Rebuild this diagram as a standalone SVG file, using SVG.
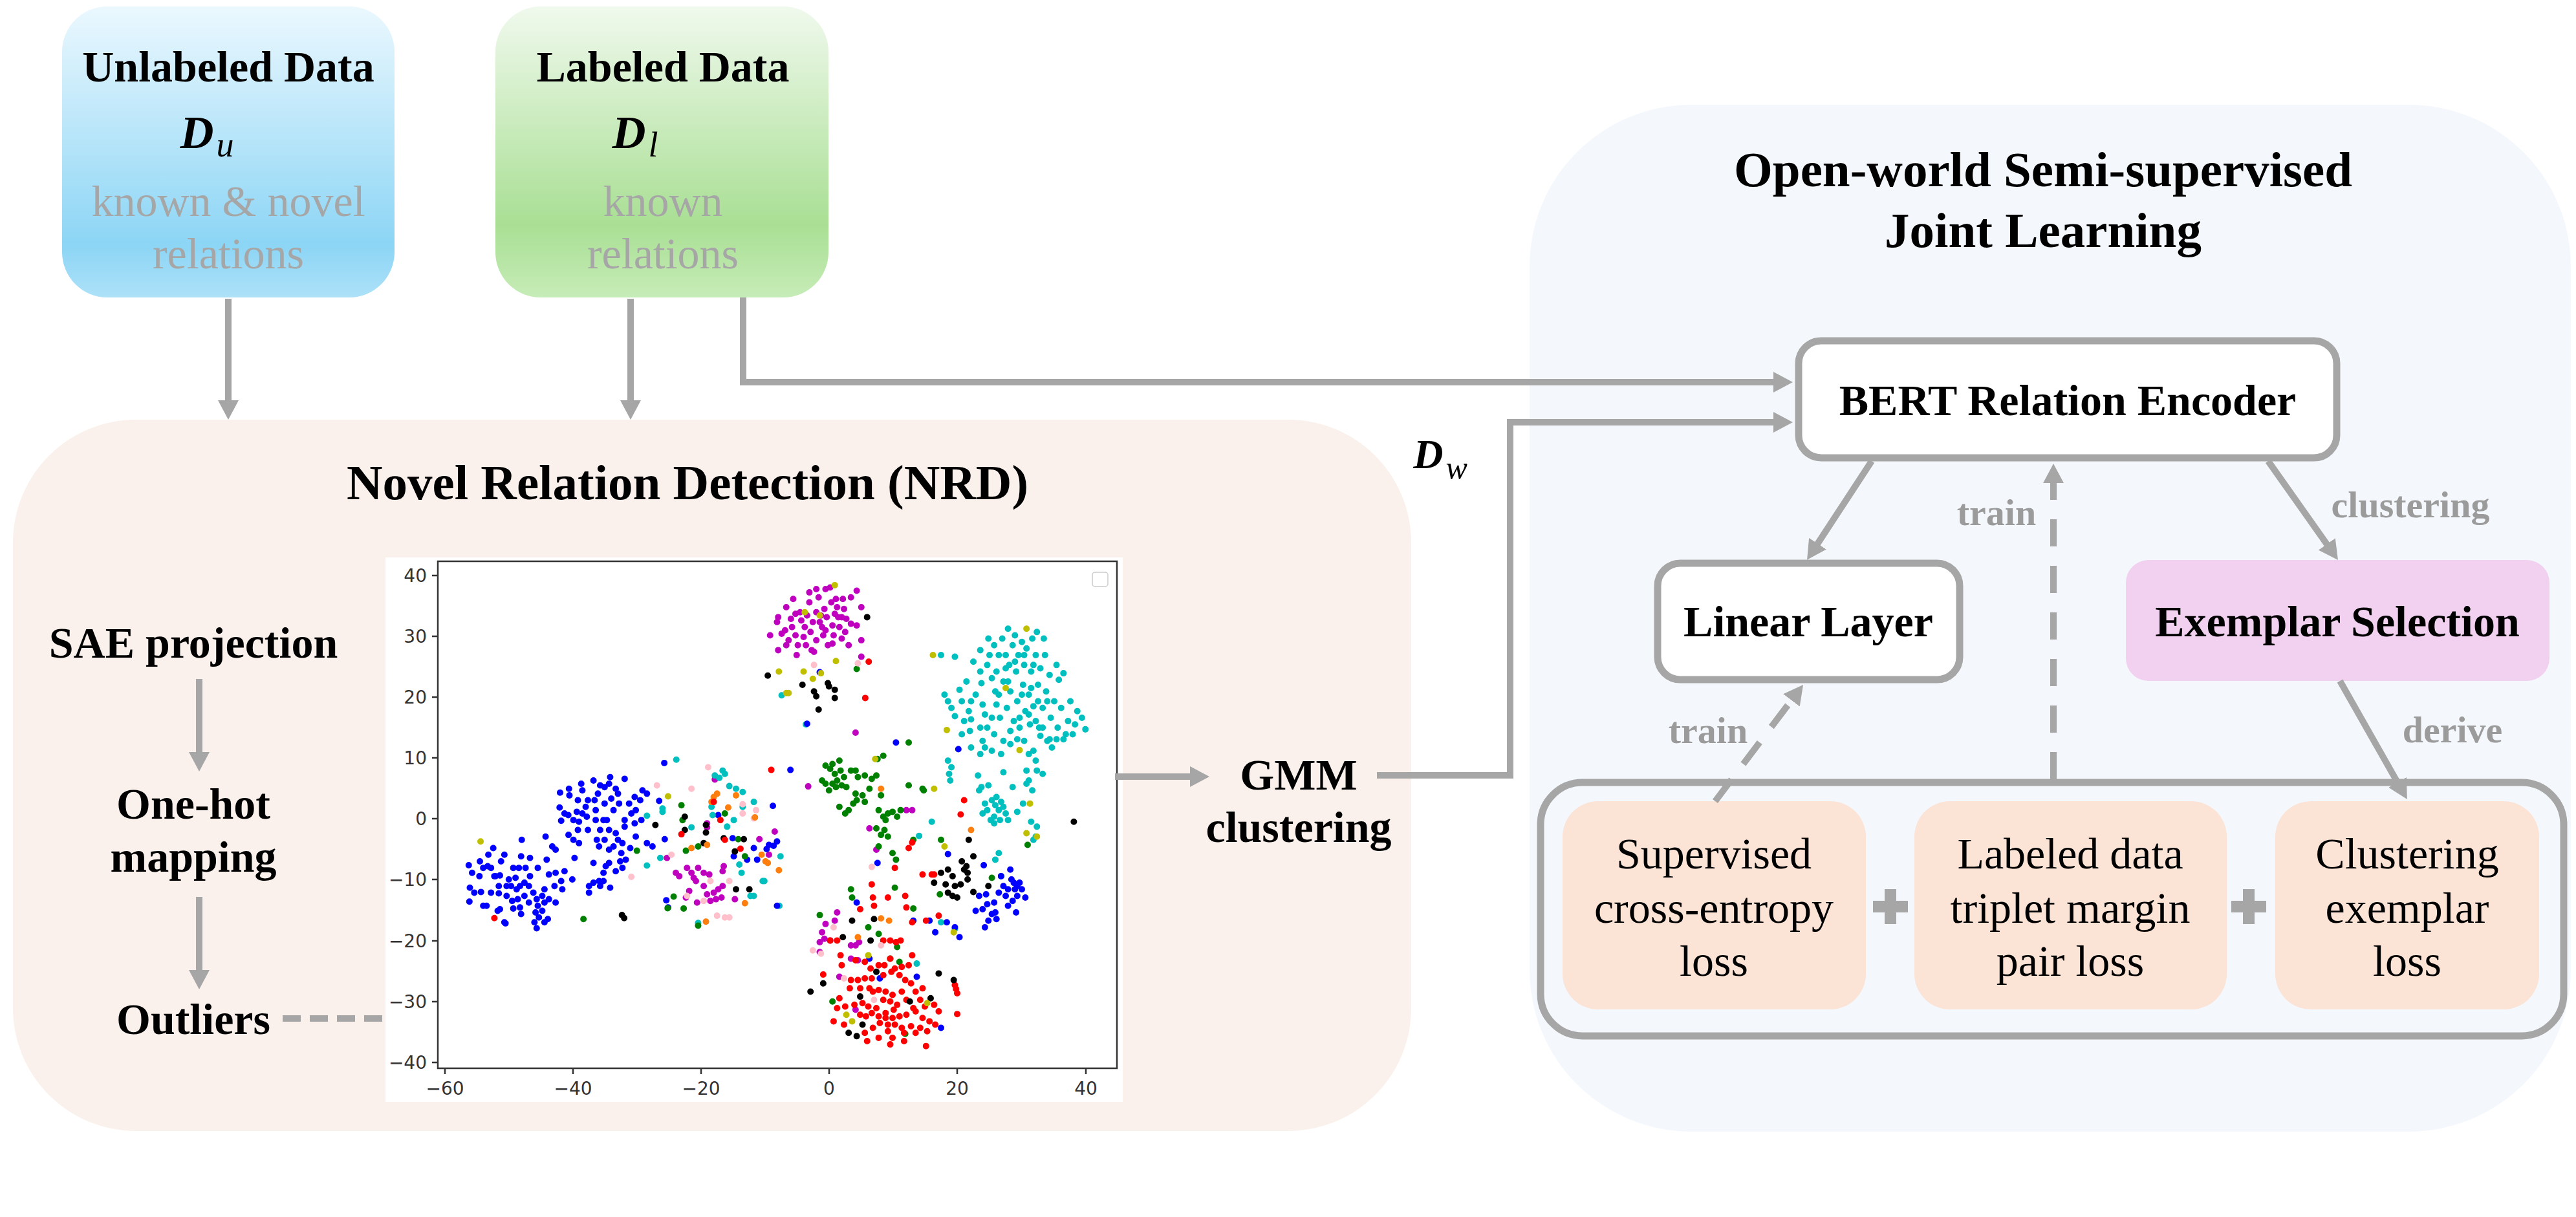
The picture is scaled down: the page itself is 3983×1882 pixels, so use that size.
<svg xmlns="http://www.w3.org/2000/svg" width="3983" height="1882" viewBox="0 0 3983 1882">
<defs>
<style>
.t{font-family:"Liberation Serif","Times New Roman",serif;font-size:68px;text-anchor:middle;fill:#000}
.b{font-weight:bold}
.g{fill:#a6a6a6}
.lbl{font-weight:bold;fill:#9b9b9b;font-size:58px}
.title{font-size:77px;font-weight:bold}
.ln{stroke:#a6a6a6;stroke-width:10;fill:none}
.arr{marker-end:url(#ah)}
.dash{stroke-dasharray:42 30}
.box{fill:#fff;stroke:#a6a6a6;stroke-width:11}
.loss{fill:#fbe3d6}
.tick{font-family:"DejaVu Sans",sans-serif;font-size:28px;fill:#333}
.tk{stroke:#333;stroke-width:2.5}
.d{fill:none;stroke-width:10;stroke-linecap:round;vector-effect:non-scaling-stroke}
</style>
<marker id="ah" markerUnits="userSpaceOnUse" markerWidth="32" markerHeight="32" refX="10" refY="16" orient="auto" viewBox="0 0 32 32"><path d="M0 0L30 16L0 32z" fill="#a6a6a6"/></marker>
<linearGradient id="gu" x1="0" y1="0" x2="0" y2="1"><stop offset="0" stop-color="#ebf8fe"/><stop offset="0.82" stop-color="#8cd5f5"/><stop offset="1" stop-color="#ade1f8"/></linearGradient>
<linearGradient id="gl" x1="0" y1="0" x2="0" y2="1"><stop offset="0" stop-color="#f0f9ed"/><stop offset="0.75" stop-color="#a9df94"/><stop offset="1" stop-color="#c6ecb7"/></linearGradient>
</defs>

<g id="panel-nrd"><rect x="20" y="649" width="2162" height="1100" rx="190" fill="#fbf1ec"/>
<text class="t title" x="1063" y="772">Novel Relation Detection (NRD)</text></g>

<g id="panel-joint"><rect x="2365" y="162" width="1610" height="1588" rx="250" fill="#f4f8fd"/>
<text class="t title" x="3159" y="288">Open-world Semi-supervised</text>
<text class="t title" x="3159" y="382">Joint Learning</text></g>

<g id="unlabeled-data"><rect x="96" y="10" width="514" height="450" rx="70" fill="url(#gu)"/>
<text class="t b" x="353" y="126">Unlabeled Data</text>
<text class="t" x="320" y="229" text-anchor="start"><tspan font-weight="bold" font-style="italic" font-size="72">D</tspan><tspan font-style="italic" font-size="54" dx="4" dy="13">u</tspan></text>
<text class="t g" x="353" y="334">known &amp; novel</text>
<text class="t g" x="353" y="415">relations</text></g>

<g id="labeled-data"><rect x="766" y="10" width="515" height="450" rx="70" fill="url(#gl)"/>
<text class="t b" x="1025" y="126">Labeled Data</text>
<text class="t" x="982" y="229" text-anchor="start"><tspan font-weight="bold" font-style="italic" font-size="72">D</tspan><tspan font-style="italic" font-size="54" dx="4" dy="13">l</tspan></text>
<text class="t g" x="1025" y="334">known</text>
<text class="t g" x="1025" y="415">relations</text></g>

<g id="sae"><text class="t b" x="299" y="1017">SAE projection</text></g>
<g id="onehot"><text class="t b" x="299" y="1266">One-hot</text><text class="t b" x="299" y="1348">mapping</text></g>
<g id="outliers"><text class="t b" x="299" y="1599">Outliers</text></g>

<g id="scatter-plot">
<rect x="596" y="862" width="1140" height="842" fill="#fff"/>
<rect x="677" y="868" width="1050" height="784" fill="none" stroke="#333" stroke-width="2.5"/>
<rect x="1689" y="885" width="24" height="22" rx="4" fill="#fff" stroke="#ccc" stroke-width="1.5"/>
<g class="tk">
<path d="M677 890h-9M677 984h-9M677 1078h-9M677 1172h-9M677 1266h-9M677 1360h-9M677 1455h-9M677 1549h-9M677 1643h-9M688 1652v9M886 1652v9M1084 1652v9M1282 1652v9M1480 1652v9M1679 1652v9"/>
</g>
<g class="tick" text-anchor="end">
<text x="660" y="900">40</text><text x="660" y="994">30</text><text x="660" y="1088">20</text><text x="660" y="1182">10</text><text x="660" y="1276">0</text><text x="660" y="1370">−10</text><text x="660" y="1465">−20</text><text x="660" y="1559">−30</text><text x="660" y="1653">−40</text>
</g>
<g class="tick" text-anchor="middle">
<text x="688" y="1693">−60</text><text x="886" y="1693">−40</text><text x="1084" y="1693">−20</text><text x="1282" y="1693">0</text><text x="1480" y="1693">20</text><text x="1679" y="1693">40</text>
</g>
<g transform="translate(680 860) scale(0.34435 0.5102)">
<path class="d" stroke="#0000ff" d="M130 937h.1M145 960h.1M135 1005h.1M133 1047h.1M180 925h.1M178 970h.1M195 945h.1M218 905h.1M240 885h.1M215 940h.1M250 970h.1M270 968h.1M290 905h.1M275 925h.1M185 1018h.1M230 1020h.1M265 1022h.1M195 1060h.1M270 1070h.1M295 1113h.1M330 1068h.1M350 1040h.1M365 1085h.1M360 1065h.1M368 860h.1M365 910h.1M405 915h.1M405 970h.1M440 945h.1M475 850h.1M505 880h.1M520 890h.1M480 920h.1M490 965h.1M520 960h.1M560 955h.1M595 980h.1M545 985h.1M550 1010h.1M515 1000h.1M470 1010h.1M460 1030h.1M435 1040h.1M420 1020h.1M400 1000h.1M380 990h.1M360 1000h.1M345 1010h.1M320 1000h.1M300 1000h.1M330 945h.1M355 945h.1M385 945h.1M340 975h.1M310 980h.1M300 1030h.1M325 1045h.1M380 1030h.1M400 1050h.1M440 1060h.1M470 1050h.1M490 1040h.1M520 1050h.1M430 1080h.1M460 1075h.1M445 1095h.1M425 1110h.1M435 1128h.1M470 1110h.1M485 1100h.1M290 1110h.1M245 970h.1M265 1000h.1M155 1020h.1M260 1075h.1M210 1060h.1M230 945h.1M540 717h.1M538 762h.1M545 802h.1M580 705h.1M582 725h.1M577 785h.1M578 845h.1M600 860h.1M605 915h.1M635 690h.1M640 710h.1M620 740h.1M615 775h.1M625 805h.1M620 830h.1M625 870h.1M655 760h.1M660 790h.1M665 830h.1M690 680h.1M695 740h.1M700 770h.1M710 720h.1M720 695h.1M740 700h.1M765 670h.1M760 690h.1M770 735h.1M740 750h.1M735 800h.1M720 830h.1M705 860h.1M715 880h.1M740 860h.1M760 830h.1M750 800h.1M780 770h.1M790 705h.1M800 720h.1M805 750h.1M830 675h.1M830 800h.1M830 820h.1M850 750h.1M860 780h.1M875 730h.1M880 770h.1M875 810h.1M880 850h.1M900 740h.1M910 710h.1M930 720h.1M905 800h.1M855 885h.1M820 870h.1M815 900h.1M810 925h.1M835 920h.1M820 945h.1M790 955h.1M760 930h.1M745 940h.1M735 960h.1M690 930h.1M690 990h.1M670 1000h.1M670 1020h.1M715 985h.1M735 985h.1M765 1005h.1M720 1000h.1M800 860h.1M780 880h.1M790 840h.1M760 890h.1M700 800h.1M665 740h.1M640 780h.1M600 800h.1M560 780h.1M930 870h.1M955 880h.1M1008 627h.1M985 742h.1M1010 858h.1M1017 1043h.1M1025 1065h.1M1315 855h.1M1320 910h.1M1380 920h.1M1410 885h.1M1425 920h.1M1250 785h.1"/>
<path class="d" stroke="#bf00bf" d="M1060 960h.1M1075 970h.1M1110 945h.1M1130 960h.1M1160 945h.1M1140 975h.1M1150 985h.1M1185 960h.1M1210 965h.1M1185 1000h.1M1200 1025h.1M1215 1045h.1M1230 1020h.1M1250 1010h.1M1270 1000h.1M1275 940h.1M1270 955h.1M1265 1035h.1M1240 1040h.1M1155 1050h.1M1105 1035h.1M1120 1015h.1M1325 1040h.1M1435 858h.1M1020 915h.1M1200 822h.1M1200 810h.1M1235 677h.1"/>
<path class="d" stroke="#00bfbf" d="M1062 617h.1M1000 765h.1M1000 775h.1M930 787h.1M990 915h.1M930 938h.1M1130 822h.1M1235 665h.1M1270 650h.1M1280 660h.1M1255 672h.1M1300 697h.1M1330 705h.1M1360 715h.1M1220 760h.1M1225 785h.1M1320 800h.1M1290 820h.1M1360 760h.1M1410 745h.1M1410 1030h.1M1450 985h.1M1345 935h.1M1355 960h.1M1160 1112h.1M1395 1030h.1"/>
<path class="d" stroke="#008000" d="M645 1100h.1M885 893h.1M1085 755h.1M1090 800h.1M1105 893h.1M1160 880h.1M1050 1032h.1M1095 1068h.1M1280 780h.1M1340 858h.1M1370 910h.1M1160 1120h.1M1023 1067h.1"/>
<path class="d" stroke="#000" d="M818 1088h.1M828 1097h.1M968 815h.1M1100 790h.1M1100 830h.1M1195 815h.1M1195 838h.1M1275 855h.1M1365 858h.1M1325 895h.1M1330 1010h.1M1390 1010h.1M1185 870h.1"/>
<path class="d" stroke="#ffc0cb" d="M975 695h.1M1205 640h.1M1130 705h.1M1360 752h.1M1360 780h.1M1410 795h.1M1420 770h.1M1040 905h.1M1185 1045h.1M1245 1090h.1M1280 1095h.1M1300 1095h.1M860 972h.1M1300 985h.1M1215 985h.1M1110 1030h.1"/>
<path class="d" stroke="#ff7f0e" d="M1220 745h.1M1245 720h.1M1230 730h.1M1295 762h.1M1330 725h.1M1415 792h.1M1200 875h.1M1130 885h.1M1195 1108h.1M1370 1052h.1M1445 905h.1"/>
<path class="d" stroke="#ff0000" d="M1230 745h.1M1260 800h.1M1085 843h.1M1280 860h.1M1350 887h.1M245 1097h.1"/>
<path class="d" stroke="#bfbf00" d="M1025 728h.1M183 865h.1"/>
</g>
<g transform="translate(1180 860) scale(0.35714 0.5102)">
<path class="d" stroke="#bf00bf" d="M30 240h.1M65 185h.1M65 285h.1M100 155h.1M100 270h.1M130 130h.1M120 190h.1M125 215h.1M140 240h.1M150 270h.1M145 300h.1M165 195h.1M180 215h.1M175 245h.1M185 270h.1M200 110h.1M200 140h.1M205 230h.1M210 285h.1M215 200h.1M230 100h.1M240 125h.1M230 255h.1M245 200h.1M255 215h.1M260 240h.1M265 160h.1M270 100h.1M275 185h.1M280 270h.1M290 95h.1M295 140h.1M300 210h.1M305 240h.1M300 265h.1M315 130h.1M320 155h.1M325 185h.1M330 215h.1M340 250h.1M345 130h.1M350 160h.1M355 230h.1M370 270h.1M380 205h.1M380 125h.1M405 105h.1M405 210h.1M425 155h.1M425 255h.1M425 305h.1M95 225h.1M80 235h.1M160 170h.1M270 225h.1M250 180h.1M340 185h.1M190 180h.1M230 170h.1M310 175h.1M360 190h.1M110 255h.1M60 200h.1M140 175h.1M220 290h.1M195 698h.1M400 535h.1M620 770h.1M645 770h.1M460 825h.1M490 890h.1M320 1080h.1M310 1105h.1M270 1115h.1M245 1170h.1M265 1160h.1M290 1165h.1M255 1140h.1M380 1180h.1M400 1180h.1M415 1170h.1M380 1220h.1M410 1225h.1M330 1275h.1M400 1375h.1M245 1200h.1M50 835h.1M25 905h.1"/>
<path class="d" stroke="#00bfbf" d="M770 300h.1M830 305h.1M785 420h.1M800 440h.1M815 460h.1M830 485h.1M850 405h.1M860 440h.1M890 470h.1M900 495h.1M910 320h.1M920 420h.1M940 350h.1M940 285h.1M945 385h.1M950 450h.1M960 480h.1M970 330h.1M975 250h.1M980 300h.1M990 370h.1M1000 270h.1M1005 410h.1M1010 450h.1M1020 300h.1M1025 490h.1M1035 250h.1M1040 380h.1M1050 300h.1M1055 460h.1M1060 220h.1M1065 330h.1M1070 410h.1M1080 270h.1M1085 500h.1M1090 240h.1M1095 350h.1M1100 440h.1M1105 300h.1M1110 520h.1M1120 260h.1M1125 390h.1M1130 330h.1M1135 470h.1M1140 280h.1M1150 420h.1M1155 510h.1M1160 350h.1M1165 250h.1M1170 455h.1M1180 300h.1M1185 230h.1M1190 390h.1M1195 520h.1M1200 340h.1M1210 460h.1M1215 250h.1M1220 300h.1M1225 410h.1M1230 560h.1M1240 360h.1M1245 490h.1M1250 580h.1M1260 440h.1M1270 330h.1M1275 520h.1M1280 375h.1M1290 460h.1M1300 355h.1M1310 540h.1M1320 500h.1M1330 440h.1M1340 540h.1M1350 510h.1M1360 470h.1M1380 490h.1M1395 525h.1M1300 555h.1M1270 555h.1M1240 555h.1M1200 545h.1M1170 590h.1M1150 600h.1M1130 560h.1M1100 555h.1M1070 570h.1M1040 560h.1M1000 540h.1M970 520h.1M950 560h.1M940 600h.1M960 580h.1M990 590h.1M1030 600h.1M1070 530h.1M1110 490h.1M1150 480h.1M1180 500h.1M1210 520h.1M990 490h.1M1020 420h.1M1060 380h.1M1090 320h.1M1120 420h.1M1160 400h.1M1190 440h.1M1230 440h.1M1010 350h.1M1050 340h.1M1130 300h.1M1170 330h.1M880 380h.1M900 440h.1M870 500h.1M860 540h.1M900 580h.1M895 530h.1M940 520h.1M800 620h.1M815 640h.1M805 660h.1M810 680h.1M930 665h.1M945 700h.1M935 710h.1M975 695h.1M1040 655h.1M1080 700h.1M1140 650h.1M1150 680h.1M1140 690h.1M1165 710h.1M1180 620h.1M1210 660h.1M1185 650h.1M960 750h.1M970 770h.1M990 740h.1M1005 755h.1M1020 770h.1M1040 760h.1M1050 780h.1M1000 790h.1M985 800h.1M1010 730h.1M1030 745h.1M950 780h.1M1060 800h.1M1100 775h.1M1125 750h.1M1160 805h.1M1185 820h.1M1000 810h.1M1025 800h.1M730 805h.1M675 848h.1M1020 900h.1M1005 920h.1M1030 970h.1M80 422h.1M185 510h.1M75 910h.1M5 985h.1M70 1060h.1M665 1235h.1M770 1110h.1M830 1130h.1M1180 850h.1M1170 860h.1"/>
<path class="d" stroke="#008000" d="M270 635h.1M290 645h.1M300 630h.1M310 660h.1M330 620h.1M335 650h.1M350 670h.1M320 680h.1M300 690h.1M270 690h.1M255 680h.1M285 710h.1M315 700h.1M340 695h.1M360 700h.1M380 650h.1M400 650h.1M410 670h.1M440 665h.1M470 675h.1M490 665h.1M330 760h.1M355 780h.1M370 770h.1M390 750h.1M405 740h.1M400 720h.1M430 725h.1M440 745h.1M460 705h.1M495 615h.1M520 605h.1M510 725h.1M500 770h.1M520 790h.1M530 800h.1M540 780h.1M560 775h.1M580 790h.1M595 770h.1M525 830h.1M490 825h.1M510 845h.1M540 850h.1M500 880h.1M560 900h.1M575 920h.1M570 1005h.1M630 695h.1M695 710h.1M690 705h.1M630 565h.1M380 1010h.1M385 1035h.1M245 1088h.1M650 1068h.1M580 1185h.1M455 1125h.1M500 1145h.1M550 1220h.1M590 1230h.1M300 1350h.1M615 1448h.1M770 860h.1M765 1025h.1M990 975h.1M1145 875h.1M650 860h.1M405 342h.1"/>
<path class="d" stroke="#0000ff" d="M575 565h.1M118 648h.1M42 757h.1M15 888h.1M25 875h.1M45 878h.1M60 865h.1M495 930h.1M845 585h.1M955 937h.1M800 903h.1M935 1030h.1M965 1025h.1M920 1075h.1M950 1070h.1M970 1055h.1M1000 1050h.1M1005 1080h.1M1020 1020h.1M1040 1000h.1M1050 1030h.1M1060 1010h.1M1075 980h.1M1070 950h.1M1085 990h.1M1090 1010h.1M1100 1000h.1M1110 990h.1M1100 1030h.1M1120 1010h.1M1135 1035h.1M1080 1045h.1M1095 1080h.1M960 1125h.1M975 1105h.1M990 1085h.1M1010 1100h.1M1030 970h.1M1060 1060h.1M405 1050h.1M460 1220h.1M505 1280h.1M665 1275h.1M720 1105h.1M745 1140h.1M795 1110h.1M850 1155h.1M770 1430h.1M830 1125h.1M190 508h.1M650 1105h.1M60 1060h.1M245 352h.1"/>
<path class="d" stroke="#ff0000" d="M457 320h.1M442 430h.1M35 648h.1M870 740h.1M855 783h.1M630 885h.1M645 868h.1M570 945h.1M470 995h.1M475 1035h.1M480 1060h.1M540 1035h.1M615 1030h.1M620 1065h.1M420 1070h.1M690 965h.1M740 965h.1M760 1090h.1M705 1105h.1M645 1110h.1M520 1165h.1M550 1165h.1M575 1170h.1M595 1165h.1M320 1165h.1M335 1210h.1M400 1225h.1M440 1230h.1M465 1250h.1M500 1240h.1M525 1240h.1M550 1220h.1M570 1250h.1M600 1245h.1M630 1240h.1M645 1210h.1M260 1268h.1M340 1240h.1M380 1285h.1M410 1285h.1M440 1280h.1M470 1280h.1M520 1270h.1M555 1260h.1M590 1270h.1M615 1285h.1M640 1295h.1M690 1310h.1M375 1310h.1M420 1310h.1M460 1310h.1M475 1320h.1M500 1315h.1M530 1320h.1M560 1330h.1M600 1320h.1M660 1320h.1M680 1345h.1M330 1340h.1M355 1365h.1M395 1360h.1M430 1355h.1M455 1365h.1M490 1370h.1M520 1345h.1M550 1350h.1M580 1360h.1M620 1345h.1M650 1370h.1M700 1365h.1M740 1360h.1M760 1380h.1M840 1388h.1M305 1410h.1M350 1420h.1M420 1390h.1M445 1395h.1M470 1385h.1M500 1395h.1M530 1385h.1M560 1400h.1M590 1395h.1M620 1390h.1M660 1380h.1M690 1400h.1M720 1410h.1M745 1420h.1M440 1445h.1M475 1430h.1M505 1415h.1M540 1420h.1M570 1420h.1M600 1430h.1M640 1425h.1M680 1430h.1M710 1440h.1M500 1460h.1M560 1460h.1M610 1470h.1M550 1480h.1M705 1485h.1M610 1445h.1M830 1300h.1M840 1325h.1M835 1312h.1M320 1370h.1M530 1400h.1M565 1375h.1M540 1440h.1M660 1445h.1M450 1470h.1M290 1165h.1M730 965h.1"/>
<path class="d" stroke="#000" d="M450 185h.1M20 362h.1M170 390h.1M220 410h.1M230 425h.1M280 385h.1M285 395h.1M310 405h.1M310 430h.1M240 465h.1M890 860h.1M1345 805h.1M860 925h.1M910 910h.1M880 940h.1M885 960h.1M870 950h.1M800 950h.1M770 960h.1M820 970h.1M855 995h.1M885 980h.1M740 990h.1M790 995h.1M830 1000h.1M800 1020h.1M820 1030h.1M840 1035h.1M910 1018h.1M975 1000h.1M760 1265h.1M825 1285h.1M725 1340h.1M635 1350h.1M260 1295h.1M205 1320h.1M490 1260h.1M465 1165h.1M480 1100h.1M385 1105h.1M345 1155h.1M420 1335h.1M430 1420h.1M370 1445h.1M405 1455h.1"/>
<path class="d" stroke="#bfbf00" d="M310 88h.1M180 170h.1M245 180h.1M315 318h.1M68 350h.1M175 350h.1M250 355h.1M215 372h.1M110 415h.1M485 615h.1M740 705h.1M785 880h.1M735 300h.1M795 527h.1M1140 220h.1M1050 400h.1M1110 588h.1M1155 750h.1M1140 840h.1M1185 850h.1M825 1140h.1M710 1355h.1M385 1410h.1M360 1390h.1M455 1210h.1M100 415h.1"/>
<path class="d" stroke="#ffc0cb" d="M220 330h.1M410 325h.1M305 1125h.1M215 1195h.1M250 1205h.1M470 942h.1M350 1280h.1M480 1345h.1M510 1180h.1"/>
<path class="d" stroke="#ff7f0e" d="M510 705h.1M900 830h.1M510 1098h.1M545 1105h.1M410 1155h.1M20 930h.1M10 925h.1M68 952h.1"/>
</g>
</g>

<g id="gmm"><text class="t b" x="2008" y="1221">GMM</text><text class="t b" x="2008" y="1302">clustering</text></g>

<g id="dw-label"><text class="t" x="2227" y="724" text-anchor="start"><tspan font-weight="bold" font-style="italic" font-size="64">D</tspan><tspan font-style="italic" font-size="50" dx="4" dy="16">w</tspan></text></g>

<g id="bert"><rect class="box" x="2781" y="527" width="832" height="181" rx="35"/>
<text class="t b" x="3197" y="642">BERT Relation Encoder</text></g>

<g id="linear"><rect class="box" x="2563" y="871" width="467" height="180" rx="35"/>
<text class="t b" x="2796" y="984">Linear Layer</text></g>

<g id="exemplar"><rect x="3287" y="866" width="655" height="187" rx="35" fill="#f2d0ef"/>
<text class="t b" x="3614" y="984">Exemplar Selection</text></g>

<g id="loss-container"><rect x="2382" y="1210" width="1582" height="392" rx="65" fill="none" stroke="#a6a6a6" stroke-width="11"/></g>

<g id="loss-ce"><rect class="loss" x="2416" y="1239" width="469" height="322" rx="55"/>
<text class="t" x="2650" y="1343">Supervised</text><text class="t" x="2650" y="1427">cross-entropy</text><text class="t" x="2650" y="1509">loss</text></g>

<g id="loss-triplet"><rect class="loss" x="2960" y="1239" width="483" height="322" rx="55"/>
<text class="t" x="3201" y="1343">Labeled data</text><text class="t" x="3201" y="1427">triplet margin</text><text class="t" x="3201" y="1509">pair loss</text></g>

<g id="loss-exemplar"><rect class="loss" x="3518" y="1239" width="408" height="322" rx="55"/>
<text class="t" x="3722" y="1343">Clustering</text><text class="t" x="3722" y="1427">exemplar</text><text class="t" x="3722" y="1509">loss</text></g>

<g id="plus-signs" fill="#a6a6a6">
<rect x="2896" y="1393" width="54" height="18"/><rect x="2914" y="1375" width="18" height="54"/>
<rect x="3450" y="1393" width="54" height="18"/><rect x="3468" y="1375" width="18" height="54"/>
</g>

<g id="connectors">
<path class="ln arr" d="M353 462V629"/>
<path class="ln arr" d="M975 462V629"/>
<path class="ln arr" d="M1149 460V591H2752"/>
<path class="ln arr" d="M2129 1199H2335V653H2752"/>
<path class="ln arr" d="M1724 1201H1850"/>
<path class="ln arr" d="M308 1050V1173"/>
<path class="ln arr" d="M308 1387V1510"/>
<path class="ln" d="M437 1575H596" stroke-dasharray="28 14"/>
<path class="ln arr" d="M2894 713L2805 849"/>
<path class="ln arr" d="M3507 713L3603.5 849.6"/>
<path class="ln arr dash" d="M3175 1205V737"/>
<path class="ln arr dash" d="M2652 1239L2776 1075"/>
<path class="ln arr" d="M3618 1053L3712 1218.6"/>
<text class="t lbl" x="3727" y="800">clustering</text>
<text class="t lbl" x="3087" y="812">train</text>
<text class="t lbl" x="2641" y="1149">train</text>
<text class="t lbl" x="3792" y="1148">derive</text>
</g>
</svg>
